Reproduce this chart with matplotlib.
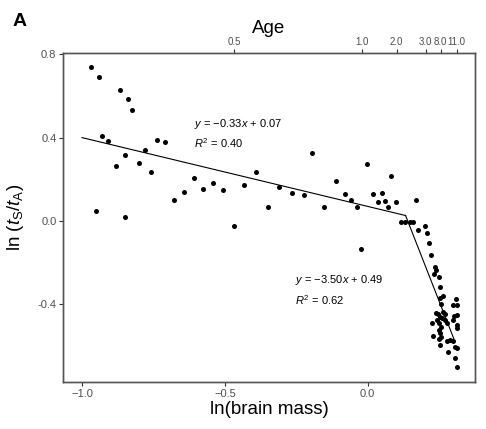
import matplotlib
matplotlib.use("Agg")
import matplotlib.pyplot as plt
import numpy as np

plt.rcParams['font.family'] = ['Liberation Sans', 'DejaVu Sans']
plt.rcParams['mathtext.fontset'] = 'custom'
plt.rcParams['mathtext.rm'] = 'Liberation Sans'
plt.rcParams['mathtext.it'] = 'Liberation Sans:italic'

# points: ln(brain mass) vs ln(tS/tA)
brain = [-0.970, -0.939, -0.867, -0.838, -0.824, -0.929, -0.910, -0.739, -0.711, -0.781,
         -0.848, -0.802, -0.881, -0.760, -0.609, -0.643, -0.678, -0.952, -0.851, -0.194,
         -0.390, -0.112, -0.543, -0.578, -0.508, -0.432, -0.309, -0.266, -0.223, -0.081,
         -0.154, -0.350, -0.468, -0.057, -0.001, 0.081, -0.039, 0.020, 0.049, 0.036,
         0.060, 0.072, 0.099, 0.169, -0.023, 0.116, 0.131, 0.148, 0.158, 0.175,
         0.202, 0.209, 0.216, 0.221, 0.236, 0.240, 0.231, 0.251, 0.254, 0.265,
         0.253, 0.258, 0.309, 0.298, 0.312, 0.239, 0.246, 0.253, 0.265, 0.272,
         0.260, 0.271, 0.277, 0.242, 0.251, 0.257, 0.225, 0.230, 0.249, 0.253,
         0.258, 0.250, 0.253, 0.277, 0.288, 0.300, 0.282, 0.306, 0.312, 0.307,
         0.312, 0.312, 0.312, 0.298, 0.312, 0.302]
ratio = [0.740, 0.692, 0.627, 0.587, 0.532, 0.406, 0.385, 0.388, 0.377, 0.339,
         0.315, 0.280, 0.264, 0.236, 0.206, 0.141, 0.101, 0.049, 0.018, 0.328,
         0.236, 0.193, 0.184, 0.153, 0.147, 0.171, 0.162, 0.134, 0.123, 0.131,
         0.066, 0.069, -0.025, 0.102, 0.273, 0.214, 0.069, 0.129, 0.136, 0.090,
         0.096, 0.069, 0.090, 0.102, -0.133, -0.003, -0.003, -0.003, -0.006, -0.043,
         -0.024, -0.056, -0.104, -0.163, -0.219, -0.235, -0.256, -0.267, -0.317, -0.360,
         -0.371, -0.398, -0.376, -0.403, -0.403, -0.440, -0.446, -0.459, -0.438, -0.446,
         -0.467, -0.475, -0.488, -0.475, -0.491, -0.507, -0.488, -0.550, -0.523, -0.539,
         -0.555, -0.567, -0.595, -0.574, -0.571, -0.574, -0.627, -0.603, -0.611, -0.659,
         -0.702, -0.499, -0.515, -0.475, -0.451, -0.456]

# two-piece fit
slopes = [-0.33, -3.50]
intercepts = [0.07, 0.49]
r2 = [0.40, 0.62]
x_start, x_end = -1.0, 0.302
x_break = (intercepts[1] - intercepts[0]) / (slopes[0] - slopes[1])

# top axis (Age) tick positions in ln(brain mass) units
age_pos = [-0.468, -0.021, 0.1015, 0.203, 0.2555, 0.3115]
age_labels = ['0.5', '1.0', '2.0', '3.0', '8.0', '11.0']

fig = plt.figure(figsize=(4.86, 4.29), dpi=100)
ax = fig.add_axes([0.1303, 0.1103, 0.8465, 0.7667])

ax.scatter(brain, ratio, s=13, color='black', linewidths=0, zorder=3)

seg1 = np.array([x_start, x_break])
seg2 = np.array([x_break, x_end])
ax.plot(seg1, slopes[0] * seg1 + intercepts[0], color='black', lw=0.8)
ax.plot(seg2, slopes[1] * seg2 + intercepts[1], color='black', lw=0.8)

ax.text(-0.607, 0.465, r'$y$ = $-$0.33$x$ + 0.07', fontsize=8, va='center')
ax.text(-0.607, 0.373, r'$R^2$ = %.2f' % r2[0], fontsize=8, va='center')
ax.text(-0.255, -0.283, r'$y$ = $-$3.50$x$ + 0.49', fontsize=8, va='center')
ax.text(-0.255, -0.379, r'$R^2$ = %.2f' % r2[1], fontsize=8, va='center')

ax.set_xlim(-1.0655, 0.3745)
ax.set_ylim(-0.7707, 0.807)
ax.set_xticks([-1.0, -0.5, 0.0])
ax.set_xticklabels(['\u22121.0', '\u22120.5', '0.0'])
ax.set_yticks([-0.4, 0.0, 0.4, 0.8])
ax.set_yticklabels(['-0.4', '0.0', '0.4', '0.8'])
ax.tick_params(length=3, width=0.8, color='#333333', labelcolor='#4D4D4D',
               labelsize=8, pad=2)
for sp in ax.spines.values():
    sp.set_color('#555555')
    sp.set_linewidth(1.0)

ax.set_xlabel('ln(brain mass)', fontsize=13.5, labelpad=2)
ax.set_ylabel(r'ln $(t_{\mathrm{S}}/t_{\mathrm{A}})$', fontsize=13.5, labelpad=8)

top = ax.twiny()
top.set_xlim(ax.get_xlim())
top.set_xticks(age_pos)
top.set_xticklabels(age_labels)
top.tick_params(length=3, width=0.8, color='#333333', labelcolor='#4D4D4D',
                labelsize=7, pad=1)
for sp in top.spines.values():
    sp.set_color('#555555')
    sp.set_linewidth(1.0)
top.set_xlabel('Age', fontsize=13.5, labelpad=3)

fig.text(0.025, 0.951, 'A', fontsize=14, fontweight='bold', va='center')

fig.savefig('out.png', dpi=100)
